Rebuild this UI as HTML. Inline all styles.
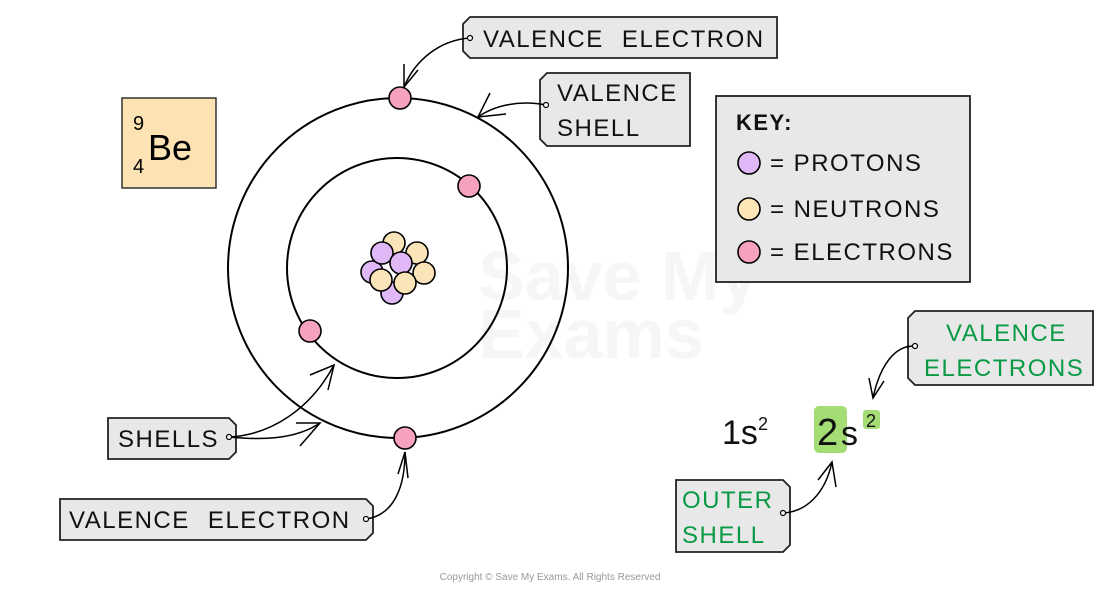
<!DOCTYPE html>
<html><head><meta charset="utf-8"><style>
html,body{margin:0;padding:0;background:#fff;width:1100px;height:589px;overflow:hidden}
svg text{font-family:"Liberation Sans",sans-serif}
</style></head><body>
<svg width="1100" height="589" viewBox="0 0 1100 589" xmlns="http://www.w3.org/2000/svg">
<!-- watermark -->
<text x="478" y="300" font-size="70" font-weight="bold" fill="#f6f6f6">Save My</text>
<text x="478" y="358" font-size="70" font-weight="bold" fill="#f6f6f6">Exams</text>
<g fill="none" stroke="#000" stroke-width="2">
<circle cx="398" cy="268" r="170"/>
<circle cx="397" cy="268" r="110"/>
</g>
<!-- nucleus -->
<g stroke="#000" stroke-width="1.6">
<circle cx="394" cy="243" r="11" fill="#fbe4b8"/>
<circle cx="372" cy="272" r="11" fill="#e0b8f8"/>
<circle cx="392" cy="293" r="11" fill="#e0b8f8"/>
<circle cx="417" cy="253" r="11" fill="#fbe4b8"/>
<circle cx="424" cy="273" r="11" fill="#fbe4b8"/>
<circle cx="382" cy="253" r="11" fill="#e0b8f8"/>
<circle cx="401" cy="263" r="11" fill="#e0b8f8"/>
<circle cx="381" cy="280" r="11" fill="#fbe4b8"/>
<circle cx="405" cy="283" r="11" fill="#fbe4b8"/>
</g>
<!-- electrons -->
<g fill="#f6a1be" stroke="#000" stroke-width="1.6">
<circle cx="400" cy="98" r="11"/>
<circle cx="469" cy="186" r="11"/>
<circle cx="310" cy="331" r="11"/>
<circle cx="405" cy="438" r="11"/>
</g>
<!-- Be box -->
<rect x="122" y="98" width="94" height="90" fill="#fde3b3" stroke="#333" stroke-width="1.5"/>
<text x="133" y="130" font-size="20">9</text>
<text x="133" y="173" font-size="20">4</text>
<text x="148" y="160" font-size="36">Be</text>
<!-- tags -->
<g fill="#e8e8e8" stroke="#222" stroke-width="1.8">
<path d="M470,17 H777 V58 H470 L463,51 V24 Z"/>
<path d="M547,73 H690 V146 H547 L540,139 V80 Z"/>
<path d="M108,418 H229 L236,425 V452 L229,459 H108 Z"/>
<path d="M60,499 H366 L373,506 V533 L366,540 H60 Z"/>
<path d="M915,311 H1093 V385 H915 L908,378 V318 Z"/>
<path d="M676,480 H783 L790,487 V545 L783,552 H676 Z"/>
<rect x="716" y="96" width="254" height="186"/>
</g>
<g font-size="24" letter-spacing="1.5" fill="#111">
<text x="483" y="47" word-spacing="10">VALENCE ELECTRON</text>
<text x="557" y="101">VALENCE</text>
<text x="557" y="136">SHELL</text>
<text x="118" y="447">SHELLS</text>
<text x="69" y="528" word-spacing="10">VALENCE ELECTRON</text>
<text x="736" y="130" font-size="22" font-weight="bold">KEY:</text>
<text x="770" y="171">= PROTONS</text>
<text x="770" y="217">= NEUTRONS</text>
<text x="770" y="260">= ELECTRONS</text>
</g>
<g font-size="24" letter-spacing="1.5" fill="#0a9a45">
<text x="946" y="341">VALENCE</text>
<text x="924" y="376">ELECTRONS</text>
<text x="682" y="508">OUTER</text>
<text x="682" y="543">SHELL</text>
</g>
<g stroke="#000" stroke-width="1.6">
<circle cx="749" cy="163" r="11" fill="#e0b8f8"/>
<circle cx="749" cy="209" r="11" fill="#fde7b8"/>
<circle cx="749" cy="252" r="11" fill="#f6a1be"/>
</g>
<!-- config -->
<rect x="814" y="406" width="33" height="47" rx="5" fill="#a4dd74"/>
<rect x="863" y="410" width="17" height="19" rx="3" fill="#a4dd74"/>
<text x="722" y="444" font-size="34" fill="#111">1s</text>
<text x="758" y="430" font-size="18" fill="#111">2</text>
<text x="817" y="445" font-size="38" fill="#111">2</text>
<text x="841" y="445" font-size="34" fill="#111">s</text>
<text x="866" y="427" font-size="18" fill="#111">2</text>
<!-- connectors -->
<g fill="none" stroke="#000" stroke-width="1.5">
<path d="M470,38 C440,40 415,60 404,87"/><path d="M404,64 L404,87 L418,70"/>
<path d="M546,105 C520,100 495,105 478,117"/><path d="M490,93 L478,117 L506,114"/>
<path d="M229,437 C270,435 310,410 334,365"/><path d="M310,375 L334,365 L328,390"/>
<path d="M229,437 C260,440 295,440 320,423"/><path d="M296,423 L320,423 L300,446"/>
<path d="M366,519 C395,515 405,485 405,452"/><path d="M398,474 L405,452 L408,478"/>
<path d="M915,346 C895,345 880,365 873,398"/><path d="M869,378 L873,398 L884,381"/>
<path d="M783,513 C805,512 825,495 832,462"/><path d="M818,480 L832,462 L836,487"/>
</g>
<g fill="#fff" stroke="#000" stroke-width="1.2">
<circle cx="470" cy="38" r="2.5"/><circle cx="546" cy="105" r="2.5"/>
<circle cx="229" cy="437" r="2.5"/><circle cx="366" cy="519" r="2.5"/>
<circle cx="915" cy="346" r="2.5"/><circle cx="783" cy="513" r="2.5"/>
</g>
<text x="550" y="580" font-size="10" fill="#999" text-anchor="middle">Copyright © Save My Exams. All Rights Reserved</text>
</svg>
</body></html>
